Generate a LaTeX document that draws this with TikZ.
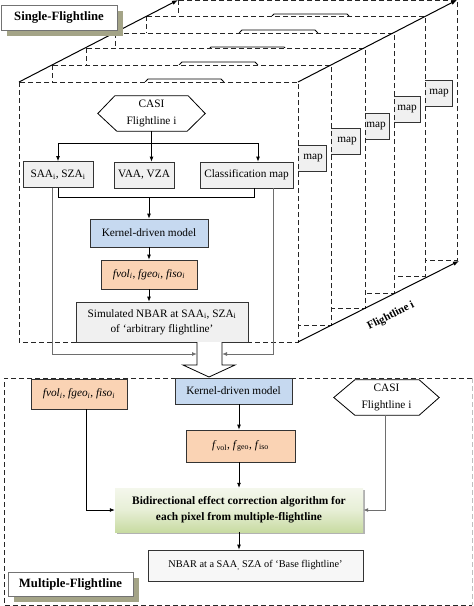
\documentclass[tikz,border=0pt]{standalone}
\usepackage{fontspec}
\setmainfont{Liberation Serif}
\usetikzlibrary{arrows.meta,shadows,calc}
\definecolor{boxgray}{HTML}{F0F0F0}
\definecolor{kblue}{HTML}{C6D9F0}
\definecolor{korange}{HTML}{FAD3B4}
\definecolor{lblshadow}{HTML}{A4A487}
\definecolor{conngray}{HTML}{6E6E6E}
\definecolor{gtop}{HTML}{F4F7EC}
\definecolor{gbot}{HTML}{C8DBA2}
\begin{document}
\begin{tikzpicture}[x=1pt,y=-1pt,
  font=\fontsize{11.3}{14}\selectfont,
  frame/.style={draw=black!85, dash pattern=on 5pt off 3pt, line width=1pt},
  gbox/.style={draw=black!80, fill=boxgray, line width=0.8pt, inner sep=0pt, align=center},
  bbox/.style={draw=black!80, fill=kblue, line width=0.8pt, inner sep=0pt, align=center},
  obox/.style={draw=black!80, fill=korange, line width=0.8pt, inner sep=0pt, align=center},
  hexnode/.style={inner sep=0pt, align=center},
  lbl/.style={draw=black!55, fill=white, line width=0.8pt, inner sep=0pt,
    font=\fontsize{12.7}{14}\selectfont\bfseries,
    drop shadow={shadow xshift=6pt, shadow yshift=-6pt, fill=lblshadow, opacity=1}},
  arr/.style={-{Latex[length=5pt,width=4pt]}, line width=0.8pt, draw=black},
  garr/.style={-{Latex[length=5pt,width=4pt]}, line width=1pt, draw=conngray},
  gline/.style={line width=1pt, draw=conngray},
  bline/.style={line width=0.8pt, draw=black},
  diag/.style={-{Latex[length=6pt,width=4.5pt]}, line width=1pt, draw=black}
]
\useasboundingbox (0,0) rectangle (474,606);

% ---------- back frames (far to near) ----------
\foreach \dx/\dy/\k in {159/-82/5, 127/-66/4, 96/-49/3, 67/-34/2, 33/-17/1}{
  \begin{scope}[shift={(\dx,\dy)}]
    \draw[frame, fill=white] (19,82) rectangle (298,342);
    \draw[line width=0.8pt, fill=white] (98,113.5) -- (115,96) -- (188,96) -- (205,113.5) -- (187,131) -- (117,131) -- cycle;
    \node[gbox, minimum width=93pt, minimum height=26pt] (cls\k) at (246.5,175) {};
    \node[anchor=east, inner sep=0pt] (map\k) at (290,175) {map};
  \end{scope}
}

% ---------- front frame ----------
\draw[frame, fill=white] (19,82) rectangle (298,342);
\coordinate (ftl) at (19,82);
\coordinate (ftr) at (298,82);
\coordinate (fbr) at (298,342);
\coordinate (btl) at (178,0);
\coordinate (btr) at (457,0);
\coordinate (bbr) at (459,261);

\node[hexnode, minimum width=107pt, minimum height=35pt] (casiA) at (151.5,113.5) {CASI\\[3pt]Flightline i};
\draw[line width=0.8pt] (casiA.west) -- ([xshift=17pt]casiA.north west) -- ([xshift=-17pt]casiA.north east)
  -- (casiA.east) -- ([xshift=-18pt]casiA.south east) -- ([xshift=19pt]casiA.south west) -- cycle;

\node[gbox, minimum width=70pt, minimum height=26pt] (saa) at (58,174.5) {SAA\textsubscript{i}, SZA\textsubscript{i}};
\node[gbox, minimum width=60pt, minimum height=26pt] (vaa) at (144,175) {VAA, VZA};
\node[gbox, minimum width=93pt, minimum height=26pt] (cls) at (246.5,175) {Classification map};
\node[bbox, minimum width=118pt, minimum height=28pt] (kerA) at (149,233) {Kernel-driven model};
\node[obox, minimum width=96pt, minimum height=29pt] (orA) at (149,274.5)
  {\textit{fvol}\textsubscript{\textit{i}}, \textit{fgeo}\textsubscript{\textit{i}}, \textit{fiso}\textsubscript{\textit{i}}};
\node[gbox, minimum width=172pt, minimum height=40pt, font=\fontsize{11.3}{13}\selectfont] (sim) at (162,322)
  {Simulated NBAR at SAA\textsubscript{i}, SZA\textsubscript{i}\\[2pt]of ‘arbitrary flightline’};

\coordinate (busA) at (151.5,143);
\coordinate (busB) at (149,197);
\draw[bline] (casiA.south) -- (busA);
\draw[bline] (saa.north |- busA) -- ([xshift=11.5pt]cls.north |- busA);
\draw[arr] (saa.north |- busA) -- (saa.north);
\draw[arr] (busA) -- (busA |- vaa.north);
\draw[arr] ([xshift=11.5pt]cls.north |- busA) -- ([xshift=11.5pt]cls.north);
\draw[bline] (saa.south) -- (saa.south |- busB) -- ([xshift=7.5pt]cls.south |- busB) -- ([xshift=7.5pt]cls.south);
\draw[arr] (busB) -- (kerA.north);
\draw[arr] (kerA.south) -- (orA.north);
\draw[arr] (orA.south) -- (orA.south |- sim.north);

% hollow block arrow
\coordinate (hL) at (197,354);
\coordinate (hR) at (222,354);
\draw[line width=0.8pt, fill=white] (197,342) -- (197,365) -- (183,365) -- (209,377) -- (235,365) -- (222,365) -- (222,342);
\draw[garr] ([xshift=-6pt]saa.south) |- (hL);
\draw[garr] ([xshift=26.5pt]cls.south) |- (hR);

% perspective arrows
\draw[diag] (ftl) -- (btl);
\draw[diag] (ftr) -- (btr);
\draw[diag] (fbr) -- (bbr);
\node[rotate=27, font=\fontsize{11}{12}\selectfont\bfseries] (fltxt) at (391,316) {Flightline i};

\node[lbl, minimum width=116pt, minimum height=25pt] (sfl) at (59,17.5) {Single-Flightline};

% ---------- lower panel ----------
\draw[frame] (472,378) -- (4,378) -- (4,605) -- (472,605);
\draw[frame, draw=black!25] (472,378) -- (472,605);

\node[obox, minimum width=96pt, minimum height=30pt] (orB) at (79,394)
  {\textit{fvol}\textsubscript{\textit{i}}, \textit{fgeo}\textsubscript{\textit{i}}, \textit{fiso}\textsubscript{\textit{i}}};
\node[bbox, minimum width=117pt, minimum height=26pt] (kerB) at (233.5,391) {Kernel-driven model};
\node[hexnode, minimum width=105pt, minimum height=35pt] (casiB) at (386.5,397.5) {CASI\\[3pt]Flightline i};
\draw[line width=0.8pt] (casiB.west) -- ([xshift=21pt]casiB.north west) -- ([xshift=-20pt]casiB.north east)
  -- (casiB.east) -- ([xshift=-20pt]casiB.south east) -- ([xshift=21pt]casiB.south west) -- cycle;
\node[obox, minimum width=109pt, minimum height=32pt] (orC) at (240.5,446)
  {\textit{f}\textsubscript{vol}, \textit{f}\textsubscript{geo}, \textit{f}\textsubscript{iso}};
\node[inner sep=0pt, align=center, minimum width=248pt, minimum height=44pt,
  top color=gtop, bottom color=gbot, middle color=gtop!70!gbot,
  drop shadow={shadow xshift=2pt, shadow yshift=-2pt, fill=black!30, opacity=1},
  font=\fontsize{11.4}{13}\selectfont\bfseries] (green) at (239,510)
  {Bidirectional effect correction algorithm for\\[3pt]each pixel from multiple-flightline};
\node[gbox, fill=white!97!black, minimum width=215pt, minimum height=31pt, font=\fontsize{10.3}{12}\selectfont] (nbar) at (255.5,565.5)
  {NBAR at a SAA\textsubscript{,} SZA of ‘Base flightline’};

\draw[arr] (kerB.south -| green.north) -- (orC.north -| green.north);
\draw[arr] (orC.south -| green.north) -- (green.north);
\draw[arr] (green.south) -- (nbar.north -| green.south);
\draw[arr] ([xshift=7pt]orB.south) |- (green.west);
\draw[garr] ([xshift=-1.5pt]casiB.south) |- (green.east);

\node[lbl, minimum width=125pt, minimum height=24pt] (mfl) at (70.5,584) {Multiple-Flightline};
\end{tikzpicture}
\end{document}
